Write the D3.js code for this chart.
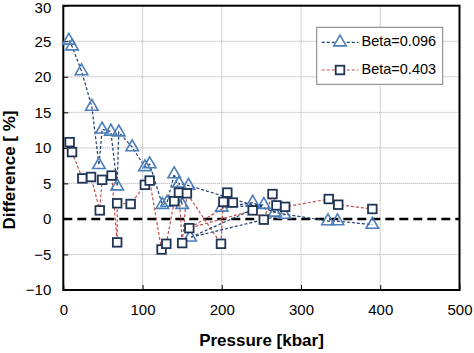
<!DOCTYPE html>
<html>
<head>
<meta charset="utf-8">
<script src="https://cdn.jsdelivr.net/npm/d3@7"></script>
<style>
  body { margin: 0; background: #fff; }
  text { font-family: "Liberation Sans", Arial, sans-serif; }
</style>
</head>
<body>
<script>
// Beta=0.096 series (pressure kbar, difference %), in plotted order
let triP = [7, 11, 23, 36, 45, 49, 60, 68, 70, 87, 103, 109, 125, 131, 140, 150, 146, 158, 279, 160, 253, 200, 239, 267, 334, 346, 390];
let triD = [25.1, 24.3, 20.8, 15.8, 7.6, 12.6, 12.3, 4.6, 12.2, 10.1, 7.3, 7.7, 2.0, 2.3, 6.3, 2.0, 5.0, 4.7, 0.6, -2.6, 2.0, 1.6, 2.3, 0.9, -0.3, -0.3, -0.8];

// Beta=0.403 series
let sqP = [8, 11, 24, 35, 46, 49, 61, 68, 68, 85, 103, 109, 124, 130, 140, 146, 150, 156, 199, 202, 207, 214, 159, 239, 253, 264, 269, 280, 335, 347, 390];
let sqD = [10.8, 9.4, 5.7, 5.9, 1.2, 5.5, 6.1, -3.3, 2.2, 2.1, 4.8, 5.4, -4.3, -3.5, 2.5, 3.7, -3.4, 3.6, -3.5, 2.4, 3.7, 2.3, -1.3, 1.2, -0.1, 3.5, 1.9, 1.7, 2.8, 2.0, 1.4];

let xTicks = [0, 100, 200, 300, 400, 500];
let yTicks = [-10, -5, 0, 5, 10, 15, 20, 25, 30];
let seriesNames = ["Beta=0.096", "Beta=0.403"];

let W = 474, H = 353;
let x = d3.scaleLinear().domain([0, 500]).range([63.3, 459.5]);
let y = d3.scaleLinear().domain([-10, 30]).range([290, 5.7]);

let svg = d3.select("body").append("svg").attr("width", W).attr("height", H);

// grid
svg.selectAll("line.vgrid")
      .data(xTicks.slice(1, -1))
      .enter().append("line")
                .attr("class", "vgrid")
                .attr("x1", d => x(d)).attr("x2", d => x(d))
                .attr("y1", y(30)).attr("y2", y(-10))
                .attr("stroke", "#a6a6a6").attr("stroke-width", 1)
                .attr("stroke-dasharray", "1,1");

svg.selectAll("line.hgrid")
      .data(yTicks.filter(d => d != 0 && d != -10 && d != 30))
      .enter().append("line")
                .attr("class", "hgrid")
                .attr("x1", x(0)).attr("x2", x(500))
                .attr("y1", d => y(d)).attr("y2", d => y(d))
                .attr("stroke", "#a6a6a6").attr("stroke-width", 1)
                .attr("stroke-dasharray", "1,1");

// zero line
svg.append("line")
      .attr("x1", x(0)).attr("x2", x(500))
      .attr("y1", y(0)).attr("y2", y(0))
      .attr("stroke", "#000").attr("stroke-width", 2.5)
      .attr("stroke-dasharray", "9,5");

// axes
let xAxis = d3.axisBottom(x).tickValues(xTicks).tickSize(-5).tickPadding(14);
let yAxis = d3.axisLeft(y).tickValues(yTicks).tickSize(-5).tickPadding(12);

let gx = svg.append("g").attr("transform", "translate(0," + y(-10) + ")").call(xAxis);
let gy = svg.append("g").attr("transform", "translate(" + x(0) + ",0)").call(yAxis);
[gx, gy].forEach(g => {
  g.select(".domain").remove();
  g.selectAll("line").attr("stroke", "#000");
  g.selectAll("text").attr("font-size", 15).attr("fill", "#000")
    .style("font-family", "'Liberation Sans', Arial, sans-serif");
});
// keep the top label inside the window
gy.selectAll(".tick text").filter(d => d == 30).attr("y", 2);

// plot border
svg.append("rect")
      .attr("x", x(0)).attr("y", y(30))
      .attr("width", x(500) - x(0)).attr("height", y(-10) - y(30))
      .attr("fill", "none").attr("stroke", "#000").attr("stroke-width", 2);

// series lines
let line = d3.line().x(d => x(d[0])).y(d => y(d[1]));
let sqData = sqP.map((p, i) => [p, sqD[i]]);
let triData = triP.map((p, i) => [p, triD[i]]);

svg.append("path").datum(sqData)
      .attr("d", line).attr("fill", "none")
      .attr("stroke", "#c0504d").attr("stroke-width", 1.2)
      .attr("stroke-dasharray", "3,2");

svg.append("path").datum(triData)
      .attr("d", line).attr("fill", "none")
      .attr("stroke", "#1f3d6e").attr("stroke-width", 1.2)
      .attr("stroke-dasharray", "3,2");

let tri = d3.symbol().type(d3.symbolTriangle).size(68);

svg.selectAll("path.tri")
      .data(triData)
      .enter().append("path")
                .attr("class", "tri")
                .attr("d", tri)
                .attr("transform", d => "translate(" + x(d[0]) + "," + y(d[1]) + ")")
                .attr("fill", "none")
                .attr("stroke", "#4a7ebb").attr("stroke-width", 1.6);

svg.selectAll("rect.sq")
      .data(sqData)
      .enter().append("rect")
                .attr("class", "sq")
                .attr("x", d => x(d[0]) - 4.3).attr("y", d => y(d[1]) - 4.3)
                .attr("width", 8.6).attr("height", 8.6)
                .attr("fill", "#fff")
                .attr("stroke", "#1f3555").attr("stroke-width", 1.8);

// legend
let lg = svg.append("g");
lg.append("rect")
      .attr("x", 316.7).attr("y", 27.3).attr("width", 126).attr("height", 57)
      .attr("fill", "#fff").attr("stroke", "#7f7f7f").attr("stroke-width", 1);

let lgY = [42.3, 70];
let lgColors = ["#1f3d6e", "#c0504d"];
lgY.forEach((ly, i) => {
  lg.append("line")
        .attr("x1", 321.7).attr("x2", 358.3).attr("y1", ly).attr("y2", ly)
        .attr("stroke", lgColors[i]).attr("stroke-width", 1.2)
        .attr("stroke-dasharray", "3,2");
  if (i == 0) {
    lg.append("path").attr("d", tri)
          .attr("transform", "translate(340," + ly + ")")
          .attr("fill", "#fff").attr("stroke", "#4a7ebb").attr("stroke-width", 1.6);
  } else {
    lg.append("rect").attr("x", 340 - 4.3).attr("y", ly - 4.3)
          .attr("width", 8.6).attr("height", 8.6)
          .attr("fill", "#fff").attr("stroke", "#1f3555").attr("stroke-width", 1.8);
  }
  lg.append("text")
        .attr("x", 361.5).attr("y", ly)
        .attr("dominant-baseline", "middle")
        .attr("font-size", 14.5)
        .text(seriesNames[i]);
});

// axis titles
svg.append("text")
      .attr("x", 261.5).attr("y", 342)
      .attr("text-anchor", "middle").attr("dominant-baseline", "middle")
      .attr("font-size", 17).attr("font-weight", "bold")
      .text("Pressure [kbar]");

svg.append("text")
      .attr("transform", "translate(11,170) rotate(-90)")
      .attr("text-anchor", "middle").attr("dominant-baseline", "middle")
      .attr("font-size", 17).attr("font-weight", "bold")
      .text("Difference [ %]");
</script>
</body>
</html>
